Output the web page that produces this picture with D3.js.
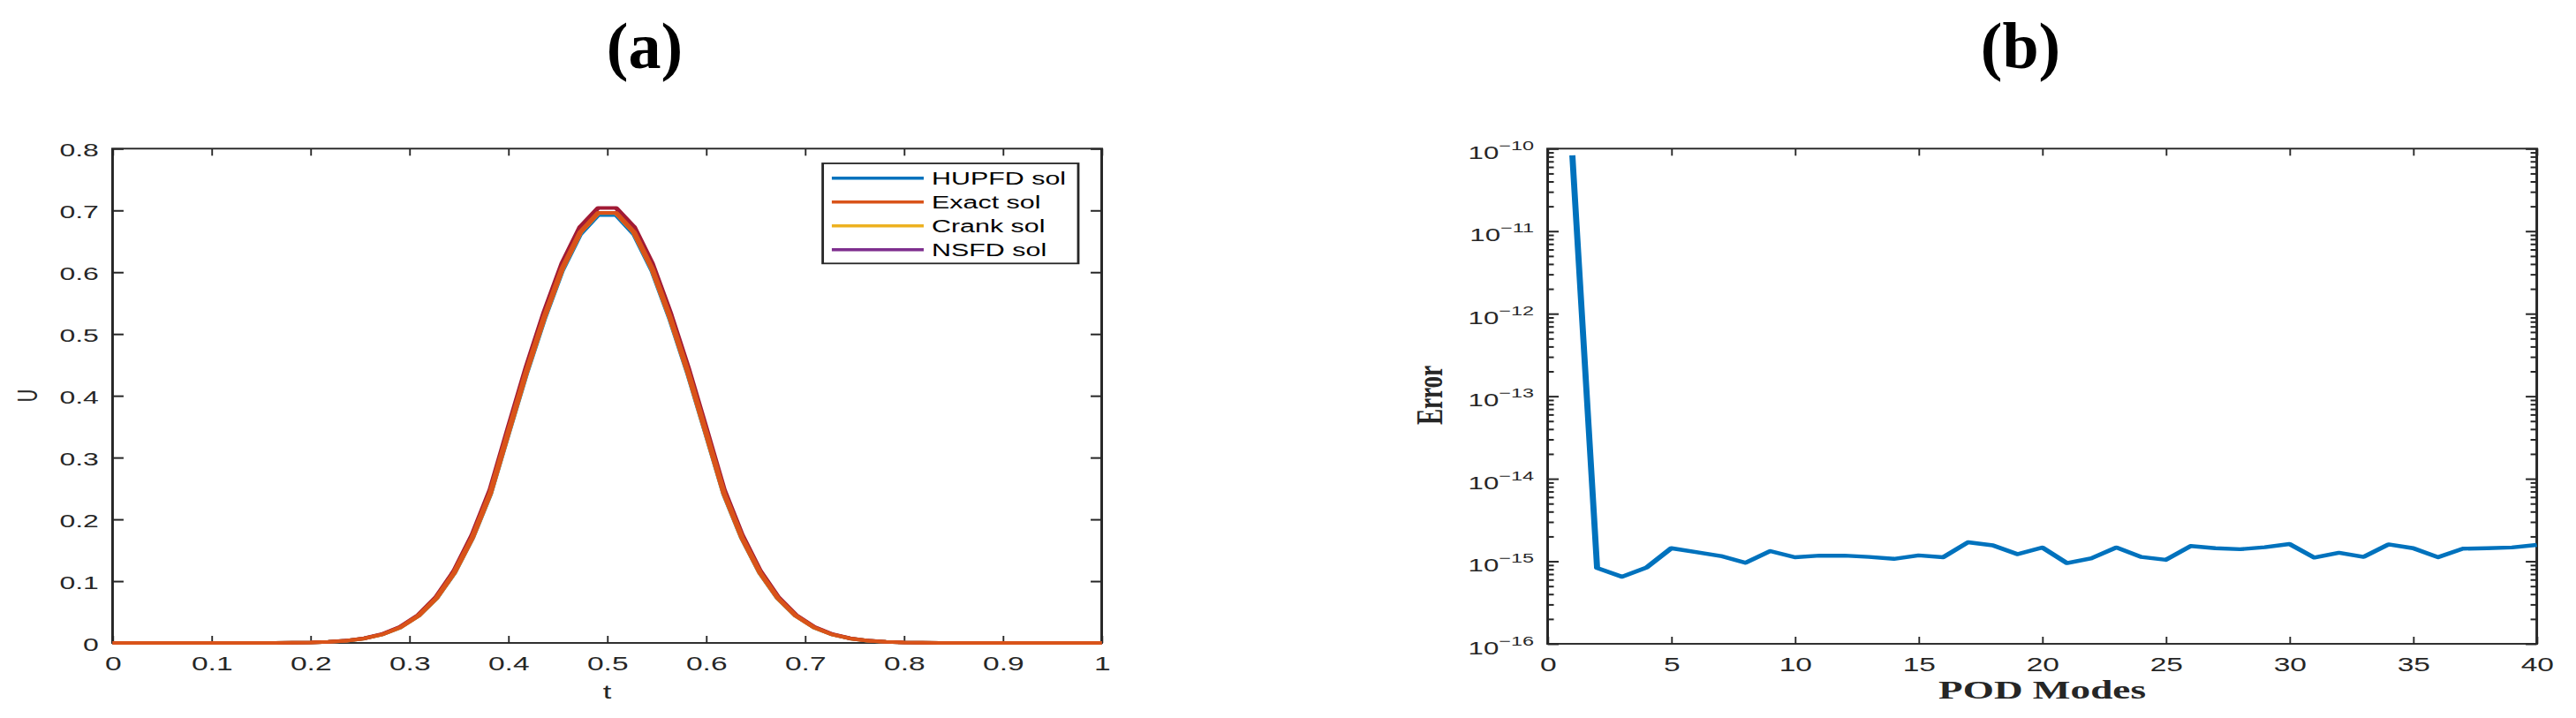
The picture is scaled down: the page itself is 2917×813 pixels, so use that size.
<!DOCTYPE html>
<html>
<head>
<meta charset="utf-8">
<script src="https://cdn.jsdelivr.net/npm/d3@7"></script>
<style>
  body { margin: 0; background: #fff; }
  svg { display: block; }
</style>
</head>
<body>
<div id="chart"></div>
<script>
// panel (a): solution curves
var tValues = [0, 0.0182, 0.0364, 0.0545, 0.0727, 0.0909, 0.1091, 0.1273, 0.1455, 0.1636,
  0.1818, 0.2, 0.2182, 0.2364, 0.2545, 0.2727, 0.2909, 0.3091, 0.3273, 0.3455,
  0.3636, 0.3818, 0.4, 0.4182, 0.4364, 0.4545, 0.4727, 0.4909, 0.5091, 0.5273,
  0.5455, 0.5636, 0.5818, 0.6, 0.6182, 0.6364, 0.6545, 0.6727, 0.6909, 0.7091,
  0.7273, 0.7455, 0.7636, 0.7818, 0.8, 0.8182, 0.8364, 0.8545, 0.8727, 0.8909,
  0.9091, 0.9273, 0.9455, 0.9636, 0.9818, 1];

var hupfdSol = [0, 0, 0, 0, 0, 0, 0, 0, 0,
  0.0001, 0.0003, 0.0007, 0.0017, 0.0036, 0.0072, 0.0137, 0.0251, 0.0437, 0.0721,
  0.1134, 0.1695, 0.2410, 0.3390, 0.4359, 0.5246, 0.6027, 0.6612, 0.6925,
  0.6925, 0.6612, 0.6027, 0.5246, 0.4359, 0.3390, 0.2410, 0.1695, 0.1134,
  0.0721, 0.0437, 0.0251, 0.0137, 0.0072, 0.0036, 0.0017, 0.0007, 0.0003, 0.0001,
  0, 0, 0, 0, 0, 0, 0, 0, 0];

var exactSol = [0, 0, 0, 0, 0, 0, 0, 0, 0,
  0.0001, 0.0003, 0.0007, 0.0017, 0.0036, 0.0072, 0.0138, 0.0252, 0.0439, 0.0725,
  0.1140, 0.1704, 0.2422, 0.3407, 0.4381, 0.5272, 0.6057, 0.6645, 0.6960,
  0.6960, 0.6645, 0.6057, 0.5272, 0.4381, 0.3407, 0.2422, 0.1704, 0.1140,
  0.0725, 0.0439, 0.0252, 0.0138, 0.0072, 0.0036, 0.0017, 0.0007, 0.0003, 0.0001,
  0, 0, 0, 0, 0, 0, 0, 0, 0];

var crankSol = [0, 0, 0, 0, 0, 0, 0, 0, 0,
  0.0001, 0.0003, 0.0007, 0.0017, 0.0036, 0.0072, 0.0138, 0.0251, 0.0438, 0.0724,
  0.1139, 0.1702, 0.2420, 0.3404, 0.4378, 0.5269, 0.6054, 0.6642, 0.6957,
  0.6957, 0.6642, 0.6054, 0.5269, 0.4378, 0.3404, 0.2420, 0.1702, 0.1139,
  0.0724, 0.0438, 0.0251, 0.0138, 0.0072, 0.0036, 0.0017, 0.0007, 0.0003, 0.0001,
  0, 0, 0, 0, 0, 0, 0, 0, 0];

var nsfdSol = [0, 0, 0, 0, 0, 0, 0, 0, 0,
  0.0001, 0.0003, 0.0008, 0.0018, 0.0038, 0.0075, 0.0143, 0.0261, 0.0453, 0.0747,
  0.1170, 0.1745, 0.2475, 0.3470, 0.4455, 0.5350, 0.6140, 0.6730, 0.7040,
  0.7040, 0.6730, 0.6140, 0.5350, 0.4455, 0.3470, 0.2475, 0.1745, 0.1170,
  0.0747, 0.0453, 0.0261, 0.0143, 0.0075, 0.0038, 0.0018, 0.0008, 0.0003, 0.0001,
  0, 0, 0, 0, 0, 0, 0, 0, 0];

var seriesNames = ["HUPFD sol", "Exact sol", "Crank sol", "NSFD sol"];
var seriesColors = ["#0072BD", "#D95319", "#EDB120", "#7E2F8E"];

var tTicks = [0, 0.1, 0.2, 0.3, 0.4, 0.5, 0.6, 0.7, 0.8, 0.9, 1];
var uTicks = [0, 0.1, 0.2, 0.3, 0.4, 0.5, 0.6, 0.7, 0.8];

// panel (b): POD error
var podModes = [1, 2, 3, 4, 5, 6, 7, 8, 9, 10, 11, 12, 13, 14, 15, 16, 17, 18, 19, 20,
  21, 22, 23, 24, 25, 26, 27, 28, 29, 30, 31, 32, 33, 34, 35, 36, 37, 38, 39, 40];
var podError = [8.3e-11, 8.3e-16, 6.5e-16, 8.4e-16, 1.44e-15, 1.29e-15, 1.16e-15, 9.6e-16, 1.33e-15, 1.12e-15,
  1.17e-15, 1.17e-15, 1.13e-15, 1.07e-15, 1.18e-15, 1.12e-15, 1.70e-15, 1.56e-15, 1.22e-15, 1.47e-15,
  9.5e-16, 1.09e-15, 1.47e-15, 1.13e-15, 1.04e-15, 1.53e-15, 1.44e-15, 1.40e-15, 1.48e-15, 1.62e-15,
  1.11e-15, 1.27e-15, 1.13e-15, 1.60e-15, 1.44e-15, 1.12e-15, 1.42e-15, 1.44e-15, 1.47e-15, 1.58e-15];

var modeTicks = [0, 5, 10, 15, 20, 25, 30, 35, 40];
var errorTicks = [1e-16, 1e-15, 1e-14, 1e-13, 1e-12, 1e-11, 1e-10];

var axisColor = "#262626",
    sansFont = "'Liberation Sans', Arial, Helvetica, sans-serif",
    serifFont = "'Liberation Serif', 'Times New Roman', serif";

// the original figure is stretched sideways, so the plots are drawn in a squeezed frame
var sx = 1.56;

var svg = d3.select("#chart").append("svg")
    .attr("width", 2917)
    .attr("height", 813);

var root = svg.append("g").attr("transform", "scale(" + sx + ",1)");

function styleAxis(g, tickWidth) {
  g.select(".domain").remove();
  g.selectAll(".tick line").attr("stroke", axisColor).attr("stroke-width", tickWidth);
  g.selectAll(".tick text").attr("fill", axisColor).style("font-family", sansFont);
}

function boxAxes(g, x, y, w, h, xTicks, yTicks, fmtX, fmtY) {
  var bottom = g.append("g")
      .attr("transform", "translate(0," + h + ")")
      .call(d3.axisBottom(x).tickValues(xTicks).tickSize(-8).tickSizeOuter(0).tickFormat(fmtX));
  styleAxis(bottom, 1.2);
  bottom.selectAll(".tick text").attr("y", 31).attr("dy", null).style("font-size", "21.5px");

  var top = g.append("g")
      .call(d3.axisTop(x).tickValues(xTicks).tickSize(-8).tickSizeOuter(0).tickFormat(""));
  styleAxis(top, 1.2);

  var left = g.append("g")
      .call(d3.axisLeft(y).tickValues(yTicks).tickSize(-8).tickSizeOuter(0).tickFormat(fmtY));
  styleAxis(left, 2);

  var right = g.append("g")
      .attr("transform", "translate(" + w + ",0)")
      .call(d3.axisRight(y).tickValues(yTicks).tickSize(-8).tickSizeOuter(0).tickFormat(""));
  styleAxis(right, 2);

  return left;
}

// ---------- panel (a) ----------
var wa = 718, ha = 559.7;
var ga = root.append("g").attr("transform", "translate(81.7,168.3)");

var xa = d3.scaleLinear().domain([0, 1]).range([0, wa]);
var ya = d3.scaleLinear().domain([0, 0.8]).range([ha, 0]);

var leftA = boxAxes(ga, xa, ya, wa, ha, tTicks, uTicks,
    function(d) { return String(d); }, function(d) { return String(d); });
leftA.selectAll(".tick text").attr("x", -10).attr("dy", "0.4em").style("font-size", "20.5px");

ga.append("rect")
    .attr("width", wa).attr("height", ha)
    .attr("fill", "none").attr("stroke", axisColor).attr("stroke-width", 1.9);

var solutions = [hupfdSol, exactSol, crankSol, nsfdSol];
// drawing order as it shows in the picture: exact solution sits on top
var drawOrder = [0, 2, 3, 1];
// the NSFD edge reads crimson in the picture where it peeks out from under the orange line
var lineColors = ["#0072BD", "#D95319", "#EDB120", "#A11A35"];

var lineA = d3.line()
    .x(function(d) { return xa(d[0]); })
    .y(function(d) { return ya(d[1]); });

drawOrder.forEach(function(s) {
  ga.append("path")
      .datum(tValues.map(function(t, i) { return [t, solutions[s][i]]; }))
      .attr("fill", "none")
      .attr("stroke", lineColors[s])
      .attr("stroke-width", 4)
      .attr("stroke-linejoin", "round")
      .attr("d", lineA);
});

var legend = ga.append("g").attr("transform", "translate(515.5,16.7)");
legend.append("rect")
    .attr("width", 185.5).attr("height", 113.3)
    .attr("fill", "#fff").attr("stroke", axisColor).attr("stroke-width", 1.8);

var rows = legend.selectAll(".row")
    .data(seriesNames)
    .enter().append("g")
    .attr("class", "row")
    .attr("transform", function(d, i) { return "translate(0," + (16.7 + i * 27) + ")"; });

rows.append("line")
    .attr("x1", 6.6).attr("x2", 73.3)
    .attr("stroke", function(d, i) { return seriesColors[i]; })
    .attr("stroke-width", 3.6);

rows.append("text")
    .attr("x", 79.1)
    .attr("dy", "0.36em")
    .style("font-family", sansFont)
    .style("font-size", "19.5px")
    .attr("fill", "#000")
    .text(function(d) { return d; });

ga.append("text")
    .attr("x", wa / 2).attr("y", 622.4)
    .attr("text-anchor", "middle")
    .style("font-family", sansFont).style("font-size", "22px")
    .attr("fill", axisColor)
    .text("t");

ga.append("text")
    .attr("transform", "translate(-54.8," + (ha / 2) + ") rotate(-90)")
    .attr("text-anchor", "middle")
    .style("font-family", sansFont).style("font-size", "20px")
    .attr("fill", axisColor)
    .text("U");

// ---------- panel (b) ----------
var wb = 718, hb = 560.7;
var gb = root.append("g").attr("transform", "translate(1123.4,168.3)");

var xb = d3.scaleLinear().domain([0, 40]).range([0, wb]);
var yb = d3.scaleLog().domain([1e-16, 1e-10]).range([hb, 0]);

var minorTicks = [];
errorTicks.slice(0, -1).forEach(function(p) {
  for (var k = 2; k <= 9; k++) minorTicks.push(k * p);
});

var minorLeft = gb.append("g")
    .call(d3.axisLeft(yb).tickValues(minorTicks).tickSize(-4.5).tickSizeOuter(0).tickFormat(""));
styleAxis(minorLeft, 2);
var minorRight = gb.append("g")
    .attr("transform", "translate(" + wb + ",0)")
    .call(d3.axisRight(yb).tickValues(minorTicks).tickSize(-4.5).tickSizeOuter(0).tickFormat(""));
styleAxis(minorRight, 2);

var leftB = boxAxes(gb, xb, yb, wb, hb, modeTicks, errorTicks,
    function(d) { return String(d); }, "");
leftB.selectAll(".tick text").remove();
leftB.selectAll(".tick").append("text")
    .attr("x", -10)
    .attr("y", 11)
    .attr("text-anchor", "end")
    .attr("fill", axisColor)
    .style("font-family", sansFont)
    .style("font-size", "20px")
    .each(function(d) {
      var e = Math.round(Math.log10(d));
      var t = d3.select(this);
      t.append("tspan").text("10");
      t.append("tspan").attr("dy", -10).style("font-size", "15px").text("\u2212" + Math.abs(e));
    });

gb.append("rect")
    .attr("width", wb).attr("height", hb)
    .attr("fill", "none").attr("stroke", axisColor).attr("stroke-width", 1.9);

gb.append("path")
    .datum(podModes.map(function(m, i) { return [m, podError[i]]; }))
    .attr("fill", "none")
    .attr("stroke", "#0072BD")
    .attr("stroke-width", 4.4)
    .attr("stroke-linejoin", "round")
    .attr("d", d3.line()
      .x(function(d) { return xb(d[0]); })
      .y(function(d) { return yb(d[1]); }));

gb.append("text")
    .attr("x", wb / 2).attr("y", 622.7)
    .attr("text-anchor", "middle")
    .style("font-family", serifFont).style("font-size", "29px").style("font-weight", "bold")
    .attr("fill", axisColor)
    .text("POD Modes");

gb.append("text")
    .attr("transform", "translate(-76.6,279.2) rotate(-90)")
    .attr("text-anchor", "middle")
    .style("font-family", serifFont).style("font-size", "27px").style("font-weight", "bold")
    .attr("fill", axisColor)
    .text("Error");

// ---------- panel titles (not stretched) ----------
svg.selectAll(".ptitle")
    .data([["(a)", 730], ["(b)", 2288]])
    .enter().append("text")
    .attr("class", "ptitle")
    .attr("x", function(d) { return d[1]; })
    .attr("y", 77)
    .attr("text-anchor", "middle")
    .style("font-family", serifFont)
    .style("font-size", "74px")
    .style("font-weight", "bold")
    .attr("fill", "#000")
    .text(function(d) { return d[0]; });
</script>
</body>
</html>
